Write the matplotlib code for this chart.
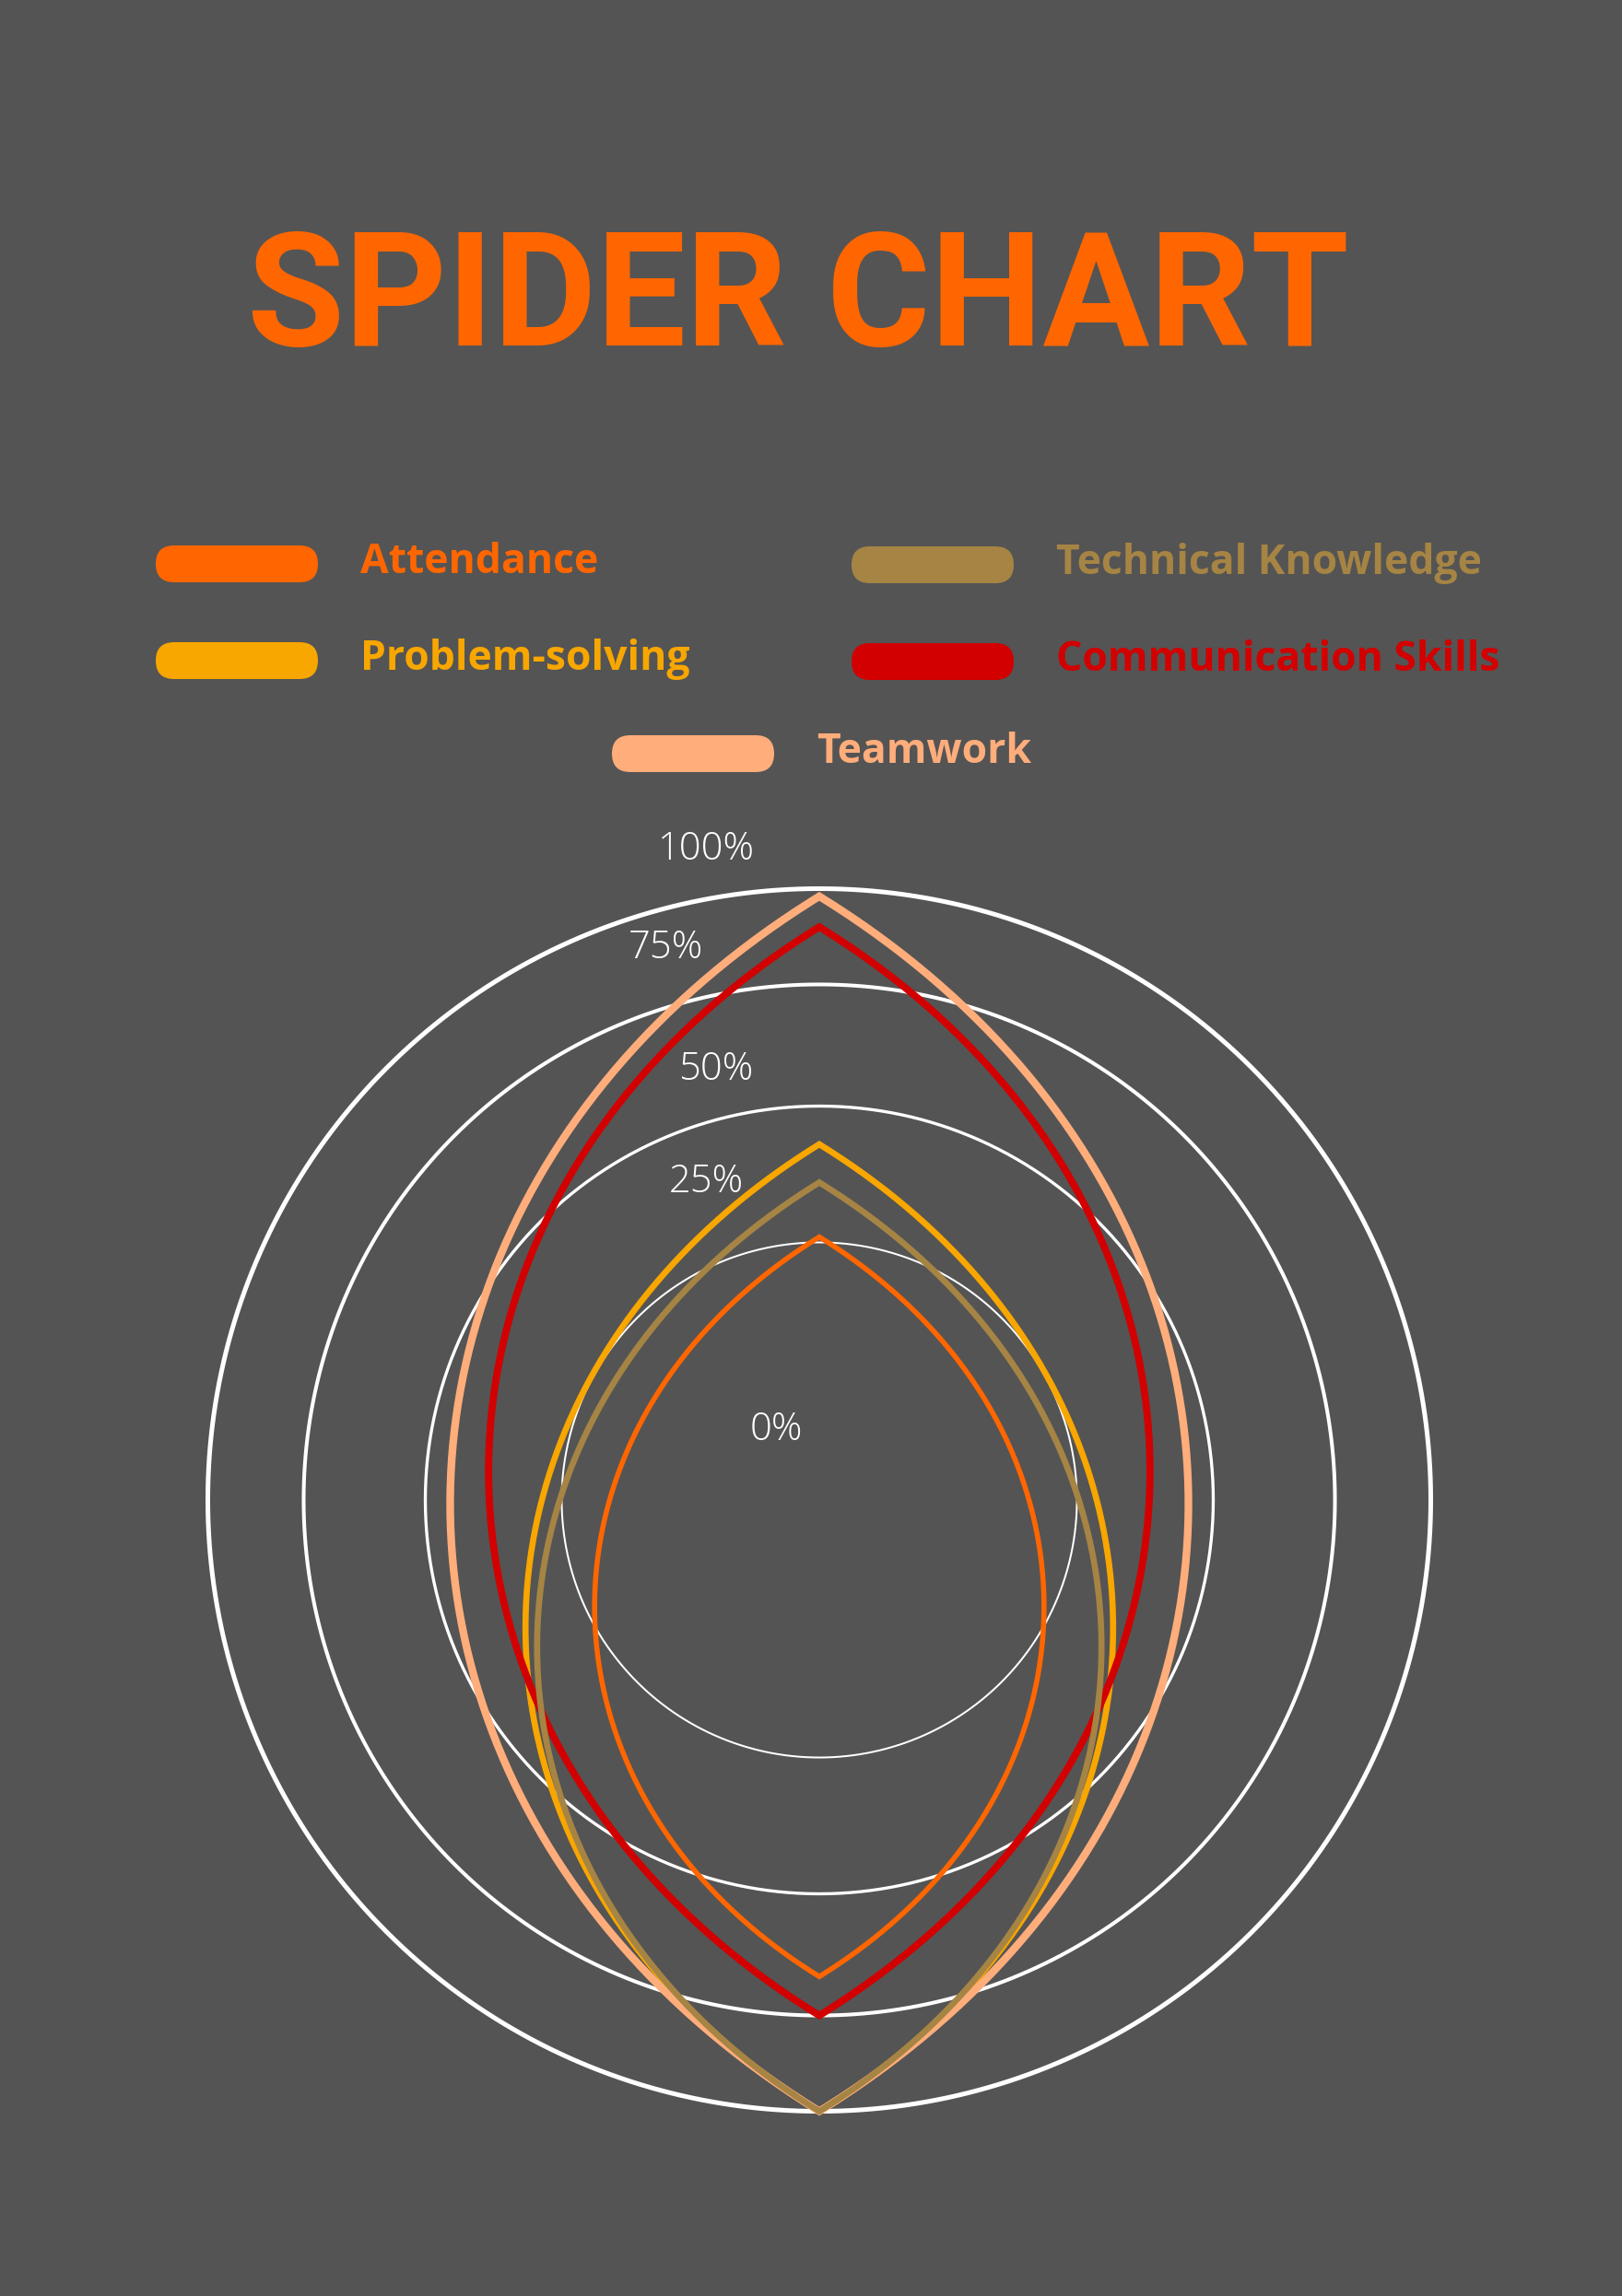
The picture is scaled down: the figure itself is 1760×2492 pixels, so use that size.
import numpy as np
import matplotlib
matplotlib.use('Agg')
import matplotlib.pyplot as plt
from matplotlib.patches import FancyBboxPatch

# data
series_names = ["Attendance", "Technical Knowledge", "Problem-solving",
                "Communication Skills", "Teamwork"]
top_values = [26, 36, 43, 90, 98]        # value on the upper spoke (%)
bottom_values = [67, 100, 100, 75, 100]  # value on the lower spoke (%)

tick_values = [0, 25, 50, 75, 100]
tick_labels = ["0%", "25%", "50%", "75%", "100%"]
# the radial scale of the original is not linear: ring radius as fraction of outer ring
ring_fraction = [0.0, 0.4213, 0.6443, 0.8433, 1.0]

# styles
series_colors = ["#FF6600", "#A68444", "#F8A600", "#D20000", "#FFAD7B"]
series_widths = [4.0, 4.8, 4.8, 5.6, 6.0]
draw_order = [1, 5, 2, 3, 4]
ring_widths = [1.45, 2.4, 2.9, 3.6]
BG = "#545454"

W, H = 1760, 2492


def forward(v):
    return np.interp(v, tick_values, ring_fraction)


def inverse(f):
    return np.interp(f, ring_fraction, tick_values)


def lens(top, bottom, bulge=0.81, steep=0.5, n=200):
    # smooth curve between the two spokes, drawn as a cubic bezier on each side
    yt = forward(top)
    yb = -forward(bottom)
    mid = (yt + yb) / 2
    h = (yt - yb) / 2
    t = np.linspace(0, 1, n)
    x = 3 * bulge * h * t * (1 - t)
    y = ((1 - t) ** 3 * yt + 3 * (1 - t) ** 2 * t * (mid + steep * h)
         + 3 * (1 - t) * t ** 2 * (mid - steep * h) + t ** 3 * yb)
    xs = np.concatenate([x, -x[::-1][1:]])
    ys = np.concatenate([y, y[::-1][1:]])
    # start from the middle of the right side so both tips are joins
    k = n // 2
    xs = np.concatenate([xs[k:-1], xs[:k + 1]])
    ys = np.concatenate([ys[k:-1], ys[:k + 1]])
    theta = np.unwrap(np.arctan2(xs, ys))
    r = inverse(np.hypot(xs, ys))
    return theta, r


def main():
    fig = plt.figure(figsize=(W / 100, H / 100), dpi=100, facecolor=BG)

    canvas = fig.add_axes([0, 0, 1, 1])
    canvas.set_xlim(0, W)
    canvas.set_ylim(H, 0)
    canvas.axis('off')

    # title
    canvas.text(866, 375, "SPIDER CHART", ha='center', va='baseline',
                fontsize=124, fontweight='bold', color="#FF6600",
                family=['Roboto', 'DejaVu Sans'])

    # legend
    slots = [(169, 612), (924, 613), (169, 717), (924, 718), (664, 818)]
    for name, color, (px, py) in zip(series_names, series_colors, slots):
        pill = FancyBboxPatch((px, py - 20), 176, 40,
                              boxstyle='round,pad=0,rounding_size=20',
                              fc=color, ec='none')
        canvas.add_patch(pill)
        canvas.text(px + 222, py + 10, name, ha='left', va='baseline',
                    fontsize=32, fontweight='bold', color=color,
                    family=['Open Sans', 'DejaVu Sans'])

    # radial tick labels
    label_pos = [(842, 1563), (766, 1294), (777, 1172), (722, 1040), (766, 933)]
    for lab, (lx, ly) in zip(tick_labels, label_pos):
        canvas.text(lx, ly, lab, ha='center', va='baseline', fontsize=30,
                    fontweight='light', color='white',
                    family=['Open Sans', 'DejaVu Sans'])

    # polar chart
    cx, cy, R = 889, 1628, 663.5
    ax = fig.add_axes([(cx - R) / W, (H - cy - R) / H, 2 * R / W, 2 * R / H],
                      projection='polar')
    ax.set_theta_zero_location('N')
    ax.set_theta_direction(-1)
    ax.set_rscale('function', functions=(forward, inverse))

    circle = np.linspace(0, 2 * np.pi, 721)
    for v, lw in zip(tick_values[1:], ring_widths):
        ax.plot(circle, np.full_like(circle, v), color='white', lw=lw,
                solid_capstyle='butt', clip_on=False, zorder=1)

    for i in range(len(series_names)):
        theta, r = lens(top_values[i], bottom_values[i])
        ax.plot(theta, r, color=series_colors[i], lw=series_widths[i],
                solid_joinstyle='miter', solid_capstyle='butt',
                clip_on=False, zorder=2 + draw_order[i])

    ax.set_rlim(0, 100)
    ax.set_xticks([])
    ax.set_yticks([])
    ax.grid(False)
    ax.spines['polar'].set_visible(False)
    ax.patch.set_visible(False)

    fig.savefig('out.png', dpi=100, facecolor=BG)


if __name__ == "__main__":
    main()
